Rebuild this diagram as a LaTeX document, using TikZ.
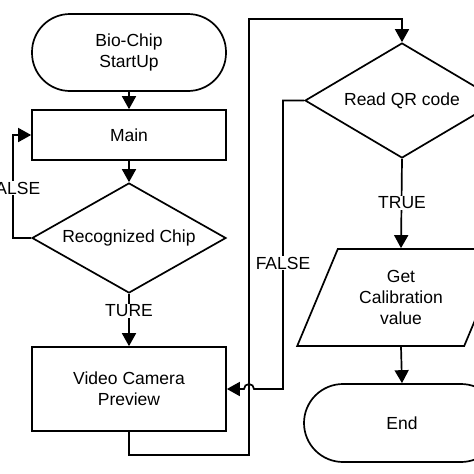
\documentclass[tikz,border=0pt]{standalone}
\usepackage{fontspec}
\setmainfont{Liberation Sans}
\usetikzlibrary{shapes.geometric,arrows.meta,calc}
\begin{document}
\begin{tikzpicture}[x=1pt,y=-1pt,
  line width=1.7pt,
  font=\fontsize{17.5}{21}\selectfont,
  box/.style={draw,rectangle,inner sep=0pt,minimum width=194pt,align=center},
  term/.style={draw,rectangle,inner sep=0pt,align=center},
  dec/.style={draw,diamond,shape aspect=1.75,inner sep=0pt,minimum width=194pt,align=center},
  io/.style={draw,trapezium,trapezium left angle=63.7,trapezium right angle=116.3,trapezium stretches=true,inner sep=0pt,minimum width=208pt,minimum height=97pt,align=center},
  arr/.style={-{Triangle[length=13pt,width=14pt]}},
  lbl/.style={fill=white,inner sep=1pt}]
\useasboundingbox (0,0) rectangle (474,474);
\node[term,minimum width=194pt,minimum height=77pt,rounded corners=38pt] (start) at (129,52.5) {Bio-Chip\\StartUp};
\node[box,minimum height=50pt] (main) at (129,135) {Main};
\node[dec,minimum height=110pt] (d1) at (129,238) {Recognized Chip};
\node[box,minimum height=84pt] (vid) at (129,389) {Video Camera\\Preview};
\node[dec,minimum height=115pt] (qr) at (402,100.5) {Read QR code};
\node[io] (cal) at (401,297.5) {Get\\Calibration\\value};
\node[term,minimum width=196pt,minimum height=78pt,rounded corners=39pt] (end) at (402,423) {End};
\coordinate (fl) at (13,238);
\coordinate (lb) at (249,455);
\coordinate (lt) at (249,19);
\coordinate (f2t) at (283,100.5);
\coordinate (f2b) at (283,389);
\coordinate (hop) at (254,389);
\draw[arr] (start.south) -- (main.north);
\draw[arr] (main.south) -- (d1.north);
\draw[arr] (d1.west) -- (fl) |- (main.west);
\node[lbl] (lf1) at (13,188) {FALSE};
\draw[arr] (d1.south) -- (vid.north);
\node[lbl] (lt1) at (129,311) {TURE};
\draw[arr] (vid.south) |- (lb) -- (lt) -| (qr.north);
\draw[arr] (qr.west) -- (f2t) -- (f2b) -- (hop) arc (0:-180:5) -- (vid.east);
\node[lbl] (lf2) at (283,263) {FALSE};
\draw[arr] (qr.south) -- (cal.north);
\node[lbl] (lt2) at (402,203) {TRUE};
\draw[arr] (cal.south) -- (end.north);
\end{tikzpicture}
\end{document}
